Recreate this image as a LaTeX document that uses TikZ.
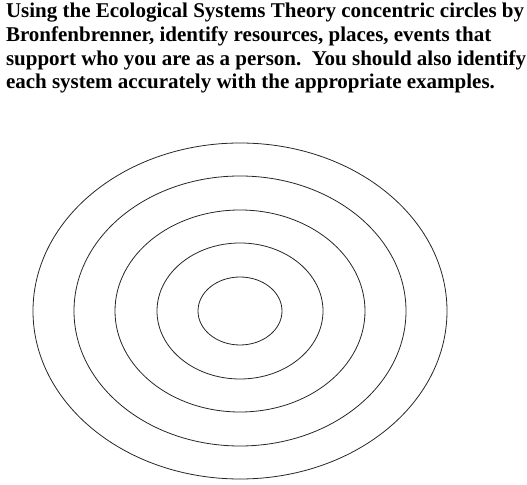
\documentclass[tikz,border=0pt]{standalone}
\usepackage{fontspec}
\setmainfont{Liberation Serif}
\usepackage{tikz}

\begin{document}
\begin{tikzpicture}[x=1bp, y=1bp, every node/.style={anchor=base west, inner sep=0pt, outer sep=0pt, font=\fontsize{21bp}{24bp}\selectfont\bfseries}]
\useasboundingbox (0,0) rectangle (527,485);
\node (line1) at (6,467.3) {Using the Ecological Systems Theory concentric circles by};
\node (line2) at (6,443.5) {Bronfenbrenner, identify resources, places, events that};
\node (line3) at (6,419.7) {support who you are as a person.\ \ You should also identify};
\node (line4) at (6,396) {each system accurately with the appropriate examples.};

\draw[line width=0.8bp, black!85] (240,174) ellipse (42 and 34);
\draw[line width=0.8bp, black!85] (240,174) ellipse (83 and 68);
\draw[line width=0.8bp, black!85] (240,174) ellipse (125 and 101);
\draw[line width=0.8bp, black!85] (240,174) ellipse (166 and 135);
\draw[line width=0.8bp, black!85] (240,174) ellipse (207 and 168);
\end{tikzpicture}
\end{document}
